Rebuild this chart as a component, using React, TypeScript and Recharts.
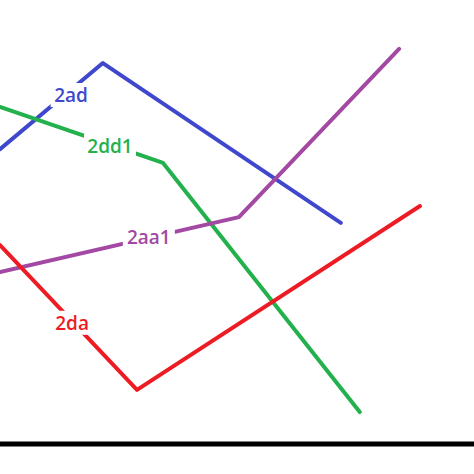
import React from 'react';
import { LineChart, Line, XAxis, YAxis, ReferenceDot } from 'recharts';

// Series values (x, y) in chart units
const adX = [0, 21.7, 71.9];
const adY = [66.4, 85.8, 49.8];
const ddX = [0, 34.4, 75.9];
const ddY = [75.9, 63.3, 7.2];
const aaX = [0, 50.4, 84.2];
const aaY = [38.7, 51.1, 89.0];
const daX = [0, 28.9, 88.6];
const daY = [44.8, 12.2, 53.6];

const seriesNames = ['2ad', '2dd1', '2aa1', '2da'];
const seriesColors = ['#3F48CC', '#22B14C', '#A349A4', '#ED1C24'];

// Inline label anchors (chart units)
const labelX = [15.0, 23.2, 31.4, 15.2];
const labelY = [78.6, 67.1, 46.6, 27.3];

const build = (xs: number[], ys: number[]) => xs.map((x, i) => ({ x, y: ys[i] }));
const seriesData = [build(adX, adY), build(ddX, ddY), build(aaX, aaY), build(daX, daY)];

const makeLabel = (text: string, color: string) => (props: any) => {
  const { cx, cy } = props;
  const w = text.length * 11 + 8;
  const h = 24;
  return (
    <g>
      <rect x={cx - w / 2} y={cy - h / 2} width={w} height={h} fill="#fff" />
      <text
        x={cx}
        y={cy}
        textAnchor="middle"
        dominantBaseline="central"
        fill={color}
        fontFamily="'Open Sans', sans-serif"
        fontWeight={600}
        fontSize={19}
      >
        {text}
      </text>
    </g>
  );
};

export default function App() {
  return (
    <div style={{ position: 'absolute', left: 0, top: 0, width: 474, height: 474, background: '#fff' }}>
      <LineChart width={474} height={474} margin={{ top: 0, right: 0, bottom: 0, left: 0 }}>
        <XAxis
          type="number"
          dataKey="x"
          domain={[0, 100]}
          allowDataOverflow
          height={30}
          tick={false}
          tickLine={false}
          axisLine={{ stroke: '#000', strokeWidth: 5 }}
        />
        <YAxis type="number" dataKey="y" domain={[0, 100]} allowDataOverflow hide />
        {seriesData.map((d, i) => (
          <Line
            key={seriesNames[i]}
            data={d}
            dataKey="y"
            type="linear"
            stroke={seriesColors[i]}
            strokeWidth={4}
            strokeLinecap="round"
            strokeLinejoin="round"
            dot={false}
            activeDot={false}
            isAnimationActive={false}
          />
        ))}
        {seriesNames.map((name, i) => (
          <ReferenceDot
            key={'lbl' + name}
            x={labelX[i]}
            y={labelY[i]}
            r={0}
            ifOverflow="visible"
            shape={makeLabel(name, seriesColors[i])}
          />
        ))}
      </LineChart>
    </div>
  );
}
